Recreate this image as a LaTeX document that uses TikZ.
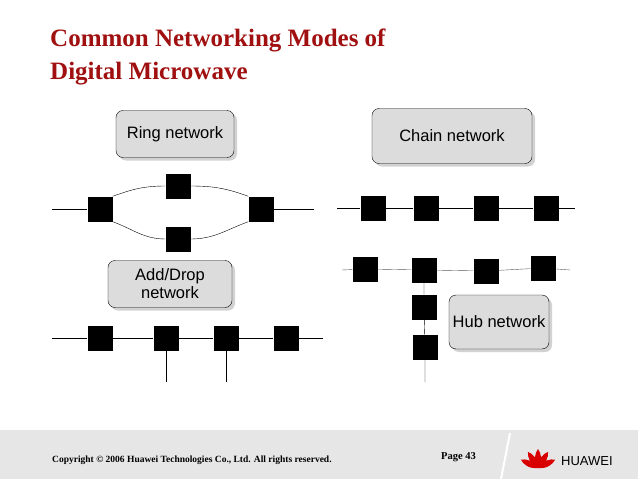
\documentclass[tikz,border=0pt]{standalone}
\usepackage{fontspec}
\setmainfont{Liberation Serif}
\newfontfamily\sansf{Liberation Sans}
\usetikzlibrary{shadows}
\definecolor{titlered}{HTML}{A01010}
\definecolor{boxgray}{HTML}{DCDCDC}
\definecolor{footgray}{HTML}{E6E6E6}
\tikzset{
  mode/.style={rectangle, rounded corners=7pt, draw=black, fill=boxgray, text centered, font=\sansf\fontsize{16.5}{18}\selectfont, drop shadow={shadow xshift=3pt, shadow yshift=-3pt, fill=gray!70}},
  ne/.style={rectangle, fill=black, minimum size=25pt, inner sep=0pt},
  link/.style={thin, black}
}
\begin{document}
\begin{tikzpicture}[x=1pt, y=-1pt]
\useasboundingbox (0,0) rectangle (638,479);
% title
\node[anchor=west, text=titlered, font=\bfseries\fontsize{25}{33}\selectfont, align=left, inner sep=0pt] (title) at (50,57) {Common Networking Modes of\\Digital Microwave};

% ring network
\node (ringlbl) [mode, minimum width=118pt, minimum height=47pt] at (175,134) {Ring network};
\node (r1) [ne] at (100,209) {};
\node (r2) [ne] at (178,186) {};
\node (r3) [ne] at (261,209) {};
\node (r4) [ne] at (178,239) {};
\coordinate (rl) at (52,209);
\coordinate (rr) at (314,209);
\draw[link] (rl) -- (r1);
\draw[link] (r3) -- (rr);
\draw[link] (r1.north east) to[out=20, in=180] (r2.west);
\draw[link] (r2.east) to[out=0, in=160] (r3.north west);
\draw[link] (r1.south east) to[out=-20, in=180] (r4.west);
\draw[link] (r4.east) to[out=0, in=200] (r3.south west);

% add/drop network
\node (adlbl) [mode, minimum width=124pt, minimum height=47pt, align=center, inner sep=1pt] at (170,284) {Add/Drop\\network};
\coordinate (al) at (52,338);
\coordinate (ar) at (323,338);
\node (a1) [ne] at (100,338) {};
\node (a2) [ne] at (166,338) {};
\node (a3) [ne] at (226,338) {};
\node (a4) [ne] at (286,338) {};
\coordinate (a2d) at (166,382);
\coordinate (a3d) at (226,382);
\draw[link] (al) -- (a1) -- (a2) -- (a3) -- (a4) -- (ar);
\draw[link] (a2) -- (a2d);
\draw[link] (a3) -- (a3d);

% chain network
\node (chlbl) [mode, minimum width=160pt, minimum height=55pt] at (452,136) {Chain network};
\coordinate (cl) at (337,208);
\coordinate (cr) at (575,208);
\node (c1) [ne] at (373,208) {};
\node (c2) [ne] at (426,208) {};
\node (c3) [ne] at (486,208) {};
\node (c4) [ne] at (546,208) {};
\draw[link] (cl) -- (c1) -- (c2) -- (c3) -- (c4) -- (cr);

% hub network
\node (hublbl) [mode, minimum width=100pt, minimum height=54pt, inner sep=1pt] at (499,322) {Hub network};
\coordinate (hl) at (342,270);
\coordinate (hr) at (570,270);
\node (h1) [ne] at (365,269) {};
\node (h2) [ne] at (424,270) {};
\node (h3) [ne] at (486,271) {};
\node (h4) [ne] at (543,268) {};
\node (h5) [ne] at (424,307) {};
\node (h6) [ne] at (425,347) {};
\coordinate (hd) at (425,382);
\draw[link, gray!70!black] (hl) -- (h1) -- (h2) -- (h3) -- (h4) -- (hr);
\draw[link] (h2) -- (h5) -- (h6) -- (hd);

% footer
\fill[footgray] (0,430) rectangle (638,479);
\draw[white, line width=2pt] (510,433) -- (501,479);
\node[anchor=west, font=\bfseries\fontsize{9.5}{10}\selectfont, inner sep=0pt] (copy) at (52,460) {Copyright \textcopyright{} 2006 Huawei Technologies Co., Ltd. All rights reserved.};
\node[anchor=west, font=\bfseries\fontsize{10.5}{11}\selectfont, inner sep=0pt] (page) at (441,457) {Page 43};
\foreach \a in {-64,-32,0,32,64}
  \fill[red!85!black, rotate around={\a:(538,468)}] (538,468) .. controls (533,460) and (535,453) .. (538,449) .. controls (541,453) and (543,460) .. (538,468);
\node[anchor=west, font=\sansf\fontsize{13}{14}\selectfont, inner sep=0pt] (logo) at (561,461) {HUAWEI};
\end{tikzpicture}
\end{document}
